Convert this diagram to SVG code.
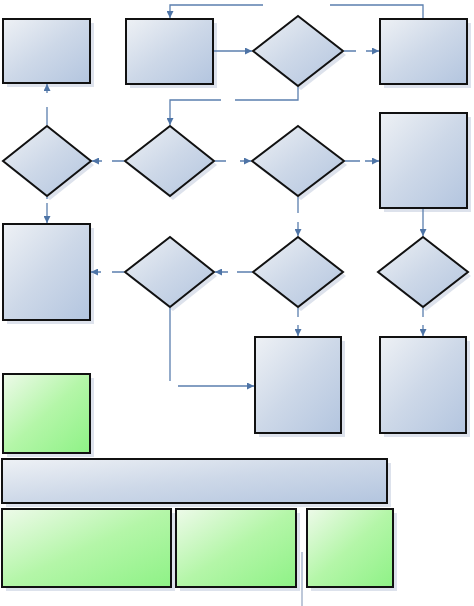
<svg xmlns="http://www.w3.org/2000/svg" width="474" height="606" viewBox="0 0 474 606">
<defs>
<linearGradient id="gBlue" x1="0" y1="0" x2="1" y2="1">
<stop offset="0" stop-color="#eef1f5"/>
<stop offset="0.5" stop-color="#cdd8e8"/>
<stop offset="1" stop-color="#b3c5df"/>
</linearGradient>
<linearGradient id="gGreen" x1="0" y1="0" x2="1" y2="1">
<stop offset="0" stop-color="#eefaea"/>
<stop offset="0.5" stop-color="#b4f6a8"/>
<stop offset="1" stop-color="#8ef286"/>
</linearGradient>
<marker id="arr" viewBox="0 0 10 10" refX="10" refY="5" markerWidth="7" markerHeight="7" orient="auto" markerUnits="userSpaceOnUse">
<path d="M0,0 L10,5 L0,10 z" fill="#4e74a6"/>
</marker>
<style>
.box{fill:url(#gBlue);stroke:#111;stroke-width:2}
.gbox{fill:url(#gGreen);stroke:#111;stroke-width:2}
.sh{fill:#dde2ec}
.c{fill:none;stroke:#5b7fae;stroke-width:1.3}
.c2{fill:none;stroke:#a9b6cc;stroke-width:1.5}
</style>
</defs>

<g id="box1"><rect class="sh" x="7" y="23" width="87" height="64"/><rect class="box" x="3" y="19" width="87" height="64"/></g>
<g id="box2"><rect class="sh" x="130" y="23" width="87" height="65"/><rect class="box" x="126" y="19" width="87" height="65"/></g>
<g id="box3"><rect class="sh" x="384" y="23" width="87" height="65"/><rect class="box" x="380" y="19" width="87" height="65"/></g>
<g id="box4"><rect class="sh" x="384" y="117" width="87" height="95"/><rect class="box" x="380" y="113" width="87" height="95"/></g>
<g id="box5"><rect class="sh" x="7" y="228" width="87" height="96"/><rect class="box" x="3" y="224" width="87" height="96"/></g>
<g id="box6"><rect class="sh" x="259" y="341" width="86" height="96"/><rect class="box" x="255" y="337" width="86" height="96"/></g>
<g id="box7"><rect class="sh" x="384" y="341" width="86" height="96"/><rect class="box" x="380" y="337" width="86" height="96"/></g>

<g id="d1"><polygon class="sh" points="301,20 346,55 301,90 256,55"/><polygon class="box" points="298,16 343,51 298,86 253,51"/></g>
<g id="dA"><polygon class="sh" points="50,130 94,165 50,200 6,165"/><polygon class="box" points="47,126 91,161 47,196 3,161"/></g>
<g id="dB"><polygon class="sh" points="173,130 217,165 173,200 128,165"/><polygon class="box" points="170,126 214,161 170,196 125,161"/></g>
<g id="dC"><polygon class="sh" points="301,130 347,165 301,200 255,165"/><polygon class="box" points="298,126 344,161 298,196 252,161"/></g>
<g id="dD"><polygon class="sh" points="301,241 346,276 301,311 256,276"/><polygon class="box" points="298,237 343,272 298,307 253,272"/></g>
<g id="dE"><polygon class="sh" points="426,241 471,276 426,311 381,276"/><polygon class="box" points="423,237 468,272 423,307 378,272"/></g>
<g id="dF"><polygon class="sh" points="173,241 217,276 173,311 128,276"/><polygon class="box" points="170,237 214,272 170,307 125,272"/></g>

<g id="g1"><rect class="sh" x="7" y="378" width="87" height="79"/><rect class="gbox" x="3" y="374" width="87" height="79"/></g>
<g id="bar"><rect class="sh" x="6" y="463" width="385" height="44"/><rect class="box" x="2" y="459" width="385" height="44"/></g>
<g id="g2"><rect class="sh" x="6" y="513" width="169" height="78"/><rect class="gbox" x="2" y="509" width="169" height="78"/></g>
<g id="g3"><rect class="sh" x="180" y="513" width="120" height="78"/><rect class="gbox" x="176" y="509" width="120" height="78"/></g>
<g id="g4"><rect class="sh" x="311" y="513" width="86" height="78"/><rect class="gbox" x="307" y="509" width="86" height="78"/></g>

<g id="connectors">
<path class="c" d="M423,18 V5 H330 M263,5 H170 V18" marker-end="url(#arr)"/>
<path class="c" d="M214,51 H252" marker-end="url(#arr)"/>
<path class="c" d="M344,51 H356 M366,51 H379" marker-end="url(#arr)"/>
<path class="c" d="M298,87 V100 H235 M221,100 H170 V125" marker-end="url(#arr)"/>
<path class="c" d="M47,125 V107 M47,93 V84" marker-end="url(#arr)"/>
<path class="c" d="M124,161 H112 M102,161 H92" marker-end="url(#arr)"/>
<path class="c" d="M215,161 H226 M240,161 H251" marker-end="url(#arr)"/>
<path class="c" d="M345,161 H360 M365,161 H379" marker-end="url(#arr)"/>
<path class="c" d="M298,197 V213 M298,222 V236" marker-end="url(#arr)"/>
<path class="c" d="M423,209 V236" marker-end="url(#arr)"/>
<path class="c" d="M252,272 H237 M228,272 H215" marker-end="url(#arr)"/>
<path class="c" d="M124,272 H112 M101,272 H91" marker-end="url(#arr)"/>
<path class="c" d="M47,197 V199 M47,203 V223" marker-end="url(#arr)"/>
<path class="c" d="M170,308 V381 M178,386 H254" marker-end="url(#arr)"/>
<path class="c" d="M298,308 V317 M298,325 V336" marker-end="url(#arr)"/>
<path class="c" d="M423,308 V317 M423,325 V336" marker-end="url(#arr)"/>
<path class="c2" d="M302,552 V606"/>
</g>
</svg>
